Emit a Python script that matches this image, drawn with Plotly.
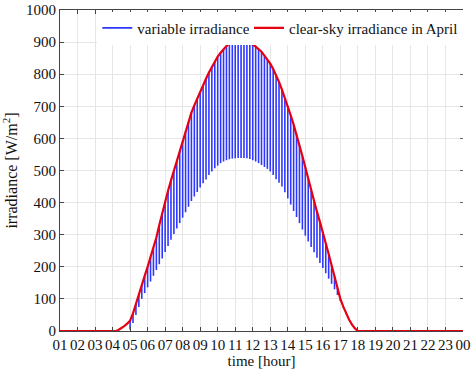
import plotly.graph_objects as go

# ---------------- data ----------------
# clear-sky irradiance, 10-minute steps from 04:00 to 18:00 (W/m^2)
clear_start_hour = 4.0
clear_values = [
    0, 0, 3, 8, 15, 23,
    32, 55, 85, 118, 145, 172,
    200, 230, 260, 291, 330, 368,
    405, 437, 469, 500, 531, 562,
    592, 622, 651, 680, 703, 725,
    745, 766, 786, 805, 823, 840,
    855, 867, 878, 888, 896, 901,
    903, 903, 902, 900, 898, 896,
    893, 886, 878, 870, 858, 846,
    833, 816, 797, 776, 752, 727,
    700, 672, 643, 613, 579, 545,
    510, 474, 438, 402, 371, 340,
    309, 274, 240, 205, 170, 135,
    100, 76, 55, 35, 20, 8,
    0,
]
# lower (cloudy) values of the variable irradiance, 10-minute steps 05:00-17:50
cloudy_start_hour = 5.0
cloudy_values = [
    5, 25, 50, 75, 100, 118,
    136, 154, 172, 190, 208, 226,
    246, 265, 284, 302, 319, 336,
    353, 370, 387, 405, 419, 433,
    447, 460, 472, 486, 497, 507,
    515, 523, 528, 532, 535, 537,
    538, 539, 539, 539, 538, 536,
    532, 528, 523, 517, 511, 505,
    497, 486, 473, 462, 450, 432,
    413, 394, 374, 355, 336, 316,
    297, 279, 262, 245, 228, 212,
    196, 180, 163, 147, 130, 112,
    93, 72, 52, 34, 18, 6,
]
day_start, day_end = 1, 24
tick_hours = list(range(1, 25))
tick_labels = ["01", "02", "03", "04", "05", "06", "07", "08", "09", "10", "11", "12",
               "13", "14", "15", "16", "17", "18", "19", "20", "21", "22", "23", "00"]
y_ticks = list(range(0, 1001, 100))

# ---------------- series construction ----------------
step = 1 / 6
clear_hours = [clear_start_hour + i * step for i in range(len(clear_values))]
red_x = [day_start] + clear_hours + [day_end]
red_y = [0] + clear_values + [0]

# variable irradiance: each sample swings between the cloudy and clear-sky reading
offset = round((cloudy_start_hour - clear_start_hour) / step)
blue_x, blue_y = [], []
for i, low in enumerate(cloudy_values):
    t = cloudy_start_hour + i * step
    blue_x += [t, t, None]
    blue_y += [low, clear_values[i + offset], None]

FONT = "Liberation Serif"
TXT = "#111111"
legend_style = dict(orientation="h", xanchor="left", y=0.995, yanchor="top",
                    bgcolor="white", borderwidth=0, font=dict(family=FONT, size=15, color=TXT),
                    itemwidth=30, tracegroupgap=0)

fig = go.Figure()
fig.add_trace(go.Scatter(x=blue_x, y=blue_y, mode="lines", name="variable irradiance",
                         line=dict(color="rgb(45,55,255)", width=1.6, simplify=False),
                         connectgaps=False, legend="legend"))
fig.add_trace(go.Scatter(x=red_x, y=red_y, mode="lines", name="clear-sky irradiance in April",
                         line=dict(color="rgb(230,0,18)", width=2.2), legend="legend2"))
# invisible trace to carry the right-hand tick axis
fig.add_trace(go.Scatter(x=[None], y=[None], yaxis="y2", showlegend=False, hoverinfo="skip"))

fig.update_layout(
    width=474, height=373,
    margin=dict(l=60, r=11, t=10, b=42, autoexpand=False),
    paper_bgcolor="white", plot_bgcolor="white",
    font=dict(family=FONT, size=15, color=TXT),
    showlegend=True,
    legend=dict(x=0.0926, **legend_style),
    legend2=dict(x=0.469, **legend_style),
    xaxis=dict(range=[day_start, day_end], tickmode="array", tickvals=tick_hours, ticktext=tick_labels,
               showgrid=True, gridcolor="#e6e6e6", gridwidth=1,
               showline=True, linecolor="#444", linewidth=1, mirror="ticks",
               ticks="inside", ticklen=4, tickcolor="#444", automargin=False,
               tickfont=dict(family=FONT, size=15, color=TXT),
               title=dict(text="time [hour]", font=dict(family=FONT, size=15, color=TXT), standoff=0),
               zeroline=False),
    yaxis=dict(range=[0, 1000], tickmode="array", tickvals=y_ticks,
               showgrid=True, gridcolor="#e6e6e6", gridwidth=1,
               showline=True, linecolor="#444", linewidth=1, automargin=False,
               ticks="inside", ticklen=4, tickcolor="#444",
               tickfont=dict(family=FONT, size=15, color=TXT),
               title=dict(text="irradiance [W/m<sup>2</sup>]", font=dict(family=FONT, size=16, color=TXT),
                          standoff=4),
               zeroline=False),
    yaxis2=dict(range=[0, 1000], overlaying="y", side="right", tickmode="array", tickvals=y_ticks,
                showticklabels=False, showgrid=False, showline=False, zeroline=False, automargin=False,
                ticks="inside", ticklen=3, tickcolor="#666"),
)

fig.write_html("out.html", config={"displayModeBar": False},
               post_script="document.body.style.margin='0';")
